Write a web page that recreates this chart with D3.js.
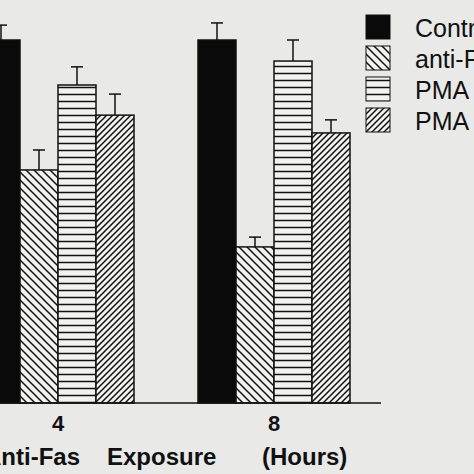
<!DOCTYPE html><html><head><meta charset="utf-8"><script src="https://cdn.jsdelivr.net/npm/d3@7"></script>
<style>body{margin:0;background:#e9e9e7}svg{display:block}</style></head><body><svg id="c" width="474" height="474"></svg>
<script>
const groups=["4","8"];
const series=["Control","anti-Fas","PMA","PMA + anti-Fas"];
const values=[[100,64.2,87.6,79.3],[100,43.0,94.2,74.4]];
const errors=[[4.1,5.5,5.0,5.8],[4.7,2.7,5.8,3.6]];
const titleParts=["Anti-Fas","Exposure","(Hours)"];
const svg=d3.select("#c");
const defs=svg.append("defs");
function pat(id,d,size){const p=defs.append("pattern").attr("id",id).attr("patternUnits","userSpaceOnUse").attr("width",size).attr("height",size);
p.append("rect").attr("width",size).attr("height",size).attr("fill","#f2f2f0");
p.append("path").attr("d",d).attr("stroke","#111").attr("stroke-width",1.5);}
pat("back","M-2,-2L10,10M-2,6L2,10M6,-2L10,2",8);
pat("horiz","M0,3.5H7",7);
pat("fwd","M-1,1L1,-1M0,6L6,0M5,7L7,5",6);
const fills=["#0a0a0a","url(#back)","url(#horiz)","url(#fwd)"];
const y=d3.scaleLinear().domain([0,100]).range([403,40]);
const x=d3.scaleBand().domain(groups).range([-18,350]).paddingInner(64/216).paddingOuter(0);
const xi=d3.scaleBand().domain(series).range([0,x.bandwidth()]);
const g=svg.append("g");
groups.forEach((gr,gi)=>{series.forEach((s,si)=>{
 const x0=x(gr)+xi(s),w=xi.bandwidth(),cx=x0+w/2,top=y(values[gi][si]),et=y(values[gi][si]+errors[gi][si]);
 g.append("line").attr("x1",cx).attr("x2",cx).attr("y1",top).attr("y2",et).attr("stroke","#111").attr("stroke-width",1.5);
 g.append("line").attr("x1",cx-6).attr("x2",cx+6).attr("y1",et).attr("y2",et).attr("stroke","#111").attr("stroke-width",1.5);
 g.append("rect").attr("x",x0).attr("y",top).attr("width",w).attr("height",403-top).attr("fill",fills[si]).attr("stroke","#111").attr("stroke-width",1.5);
});});
const ax=svg.append("g").attr("transform","translate(0,403)").call(d3.axisBottom(x).tickSize(0).tickPadding(12));
ax.select(".domain").attr("d","M-5,0H381").attr("stroke","#111").attr("stroke-width",1.5);
ax.selectAll("text").attr("font-family","Liberation Sans, Arial").attr("font-weight","bold").attr("font-size",22).attr("fill","#111");
const tx=[[80,"end"],[107,"start"],[262,"start"]];
titleParts.forEach((t,i)=>svg.append("text").attr("x",tx[i][0]).attr("y",465).attr("text-anchor",tx[i][1]).attr("font-family","Liberation Sans, Arial").attr("font-weight","bold").attr("font-size",24).attr("fill","#111").text(t));
const lg=svg.append("g");
series.forEach((s,i)=>{const yy=15+i*31;
 lg.append("rect").attr("x",366).attr("y",yy).attr("width",24).attr("height",24).attr("fill",fills[i]).attr("stroke","#111").attr("stroke-width",1);
 lg.append("text").attr("x",415).attr("y",yy+22).attr("font-family","Liberation Sans, Arial").attr("font-size",25).attr("fill","#111").text(s);});
</script></body></html>
